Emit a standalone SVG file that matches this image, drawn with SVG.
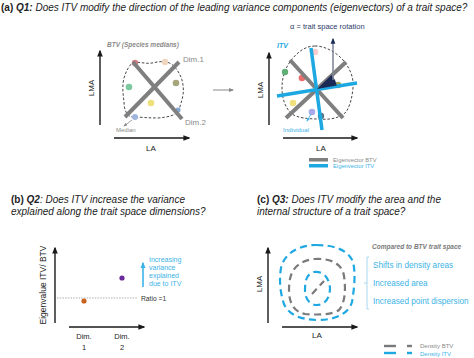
<svg xmlns="http://www.w3.org/2000/svg" width="474" height="358" viewBox="0 0 474 358">
<defs>
<style>
text{font-family:"Liberation Sans",Arial,sans-serif;}
.ttl{font-size:10px;font-style:italic;fill:#222;}
.b{font-weight:bold;}
.ax{stroke:#1a1a1a;stroke-width:1.4;fill:none;}
.axl{font-size:8px;fill:#222;}
.btv{stroke:#7f7f7f;stroke-width:4;stroke-linecap:butt;}
.itv{stroke:#1ea8e2;stroke-width:3.5;}
.hull{fill:none;stroke:#333;stroke-width:0.9;stroke-dasharray:2.6 1.8;}
.lb{fill:#3cb3e6;}
.cb{fill:none;stroke:#1ea8e2;stroke-width:2.2;stroke-dasharray:7 4.5;}
.cg{fill:none;stroke:#7a7a7a;stroke-width:2.2;stroke-dasharray:7 4.5;}
</style>
<marker id="ah" viewBox="0 0 10 10" refX="8" refY="5" markerWidth="5" markerHeight="5" orient="auto">
<path d="M0,1 L10,5 L0,9 Z" fill="#1a1a1a"/>
</marker>
<marker id="ahg" viewBox="0 0 10 10" refX="8" refY="5" markerWidth="5" markerHeight="5" orient="auto">
<path d="M0,1 L10,5 L0,9 Z" fill="#888"/>
</marker>
<marker id="ahb" viewBox="0 0 10 10" refX="8" refY="5" markerWidth="4" markerHeight="4" orient="auto">
<path d="M0,1 L10,5 L0,9 Z" fill="#3cb3e6"/>
</marker>
<marker id="ahn" viewBox="0 0 10 10" refX="8" refY="5" markerWidth="4" markerHeight="4" orient="auto">
<path d="M0,1 L10,5 L0,9 Z" fill="#1b2a55"/>
</marker>
</defs>
<rect width="474" height="358" fill="#fff"/>

<!-- Titles -->
<g id="title-a">
<text class="ttl" x="1" y="11"><tspan class="b" font-style="normal">(a) </tspan><tspan class="b">Q1:</tspan> Does ITV modify the direction of the leading variance components (eigenvectors) of a trait space?</text>
</g>
<g id="title-b">
<text class="ttl" x="11" y="203"><tspan class="b" font-style="normal">(b) </tspan><tspan class="b">Q2</tspan>: Does ITV increase the variance</text>
<text class="ttl" x="11" y="215">explained along the trait space dimensions?</text>
</g>
<g id="title-c">
<text class="ttl" x="257" y="203"><tspan class="b" font-style="normal">(c) </tspan><tspan class="b">Q3:</tspan> Does ITV modify the area and the</text>
<text class="ttl" x="257" y="215">internal structure of a trait space?</text>
</g>

<!-- Panel a left: BTV -->
<g id="a-btv">
<line class="ax" x1="100" y1="125" x2="100" y2="51" marker-end="url(#ah)"/>
<line class="ax" x1="114" y1="138" x2="189" y2="138" marker-end="url(#ah)"/>
<text class="axl" transform="translate(94,88) rotate(-90)" text-anchor="middle">LMA</text>
<text class="axl" x="151" y="151" text-anchor="middle">LA</text>
<text x="107" y="47" font-size="6.5" font-weight="bold" font-style="italic" fill="#8a8a8a">BTV (Species medians)</text>
<path class="hull" d="M133,62 C140,62 146,64 152,63 C157,62 162,61 167,62 C173,64 176,68 179,73 C183,80 184,88 183,95 C182,101 180,106 179,110 C175,116 168,117 158,118 C148,118 140,117 133,117 C127,117 124,110 124,102 C123,94 122,86 124,78 C126,71 129,66 133,62 Z"/>
<circle cx="135" cy="63" r="3.2" fill="#d26a72" opacity="0.85"/>
<circle cx="165" cy="62" r="3.2" fill="#f0d6bf"/>
<circle cx="129" cy="87" r="3.3" fill="#7cc9a0"/>
<circle cx="176" cy="83" r="3.3" fill="#a7a57c"/>
<circle cx="151" cy="103" r="3.3" fill="#efe07c"/>
<circle cx="135" cy="117" r="3" fill="#9fb6dc"/>
<circle cx="178" cy="110" r="2.6" fill="#86a7d3"/>
<line class="btv" x1="133" y1="62" x2="182" y2="119"/>
<line class="btv" x1="125" y1="117" x2="179" y2="62"/>
<text x="183" y="62" font-size="8" fill="#8a8a8a">Dim.1</text>
<text x="185" y="125" font-size="8" fill="#8a8a8a">Dim.2</text>
<line x1="132" y1="120" x2="124" y2="126" stroke="#888" stroke-width="0.8" marker-end="url(#ahg)"/>
<text x="116" y="132" font-size="6" fill="#8a8a8a">Median</text>
</g>

<!-- Panel a right: ITV -->
<g id="a-itv">
<line class="ax" x1="269" y1="125" x2="269" y2="53" marker-end="url(#ah)"/>
<line class="ax" x1="283" y1="138" x2="357" y2="138" marker-end="url(#ah)"/>
<text class="axl" transform="translate(263,90) rotate(-90)" text-anchor="middle">LMA</text>
<text class="axl" x="321" y="151" text-anchor="middle">LA</text>
<text x="277" y="48" font-size="7" font-weight="bold" font-style="italic" fill="#1ea8e2">ITV</text>
<path class="hull" d="M315,46 C325,46 336,52 343,60 C350,68 354,78 353,88 C352,98 350,106 346,112 C340,118 330,120 320,119 C308,119 298,118 292,114 C285,108 282,98 282,88 C282,76 286,66 293,58 C299,51 306,46 315,46 Z"/>
<circle cx="315" cy="52" r="3.3" fill="#f6cccc"/>
<circle cx="285" cy="72" r="3.2" fill="#5fae78"/>
<circle cx="302" cy="78" r="3.3" fill="#ea6d6d"/>
<circle cx="338" cy="85" r="3.3" fill="#9ea35e"/>
<circle cx="293" cy="103" r="3.3" fill="#f0e07c"/>
<circle cx="312" cy="112" r="3.3" fill="#a9a9ea"/>
<circle cx="321" cy="116" r="3.2" fill="#587a88"/>
<line class="btv" x1="290" y1="60" x2="343" y2="118"/>
<line class="btv" x1="286" y1="118" x2="346" y2="62"/>
<line class="itv" x1="311" y1="48" x2="322" y2="130"/>
<line class="itv" x1="277" y1="96" x2="357" y2="83"/>
<path d="M317,89 L331.4,75.1 A20,20 0 0,1 336.7,85.5 Z" fill="#1b2a55"/>
<line x1="333" y1="80" x2="333" y2="39" stroke="#7c8399" stroke-width="1.5" marker-end="url(#ahn)"/>
<text x="290" y="29" font-size="7.5" fill="#2b3a67">α = trait space rotation</text>
<line x1="311" y1="114" x2="307" y2="121" stroke="#3cb3e6" stroke-width="0.9" marker-end="url(#ahb)"/>
<text x="296" y="132" font-size="6.2" text-anchor="middle" class="lb">Individual</text>
</g>

<g id="a-legend">
<rect x="309" y="158" width="19" height="3.5" fill="#7f7f7f"/>
<rect x="309" y="164" width="19" height="3.5" fill="#1ea8e2"/>
<text x="333" y="162" font-size="5.8" fill="#8a8a8a">Eigenvector BTV</text>
<text x="333" y="168" font-size="5.8" class="lb">Eigenvector ITV</text>
</g>

<g id="connectors">
<line x1="213" y1="90" x2="233" y2="90" stroke="#888" stroke-width="1" marker-end="url(#ahg)"/>
</g>

<!-- Panel b -->
<g id="b-plot">
<line class="ax" x1="55" y1="323" x2="55" y2="248" marker-end="url(#ah)"/>
<line class="ax" x1="69" y1="327" x2="144" y2="327" marker-end="url(#ah)"/>
<text transform="translate(46,285) rotate(-90)" text-anchor="middle" font-size="8.5" fill="#222">Eigenvalue ITV/ BTV</text>
<line x1="57" y1="298" x2="137" y2="298" stroke="#999" stroke-width="0.8" stroke-dasharray="1.5 1.2"/>
<text x="141" y="301" font-size="6.7" fill="#333">Ratio =1</text>
<circle cx="84" cy="301" r="2.6" fill="#c9631c"/>
<circle cx="122" cy="278" r="2.6" fill="#6a2a9a"/>
<text x="84" y="339" font-size="7.5" text-anchor="middle" fill="#222">Dim.</text>
<text x="84" y="350" font-size="7.5" text-anchor="middle" fill="#222">1</text>
<text x="122" y="339" font-size="7.5" text-anchor="middle" fill="#222">Dim.</text>
<text x="122" y="350" font-size="7.5" text-anchor="middle" fill="#222">2</text>
<line x1="143" y1="287" x2="143" y2="263" stroke="#3cb3e6" stroke-width="1.6" marker-end="url(#ahb)"/>
<text x="149" y="262" font-size="7" class="lb">Increasing</text>
<text x="149" y="270" font-size="7" class="lb">variance</text>
<text x="149" y="278" font-size="7" class="lb">explained</text>
<text x="149" y="286" font-size="7" class="lb">due to ITV</text>
</g>

<!-- Panel c -->
<g id="c-plot">
<line class="ax" x1="268" y1="323" x2="268" y2="248" marker-end="url(#ah)"/>
<line class="ax" x1="282" y1="327" x2="357" y2="327" marker-end="url(#ah)"/>
<text class="axl" transform="translate(262,284) rotate(-90)" text-anchor="middle">LMA</text>
<text class="axl" x="317" y="338" text-anchor="middle">LA</text>
<path class="cb" d="M316,245 C336,245 349,251 353,262 C356,274 354,290 352,302 C349,313 336,320 318,320 C300,320 288,314 284,304 C280,292 279,280 281,268 C284,254 298,245 316,245 Z"/>
<path class="cg" d="M314,259 C330,258 342,263 344,276 C346,290 345,303 339,310 C332,315 318,315 305,314 C294,312 289,303 289,290 C289,276 292,262 314,259 Z"/>
<path class="cb" d="M314,272 C324,271 329,278 330,288 C330,298 325,305 317,305 C309,305 305,298 305,290 C305,282 306,274 314,272 Z"/>
<path class="cg" d="M312,294 L324,281" stroke-dasharray="5 3"/>
</g>
<g id="c-notes">
<text x="372" y="249" font-size="6.5" font-weight="bold" font-style="italic" fill="#7a7a7a">Compared to BTV trait space</text>
<path d="M369,257 L367,257 L367,309 L369,309 M367,283 L364,283" fill="none" stroke="#9fd3ee" stroke-width="0.9"/>
<text x="373" y="268" font-size="8.2" class="lb">Shifts in density areas</text>
<text x="373" y="286" font-size="8.2" class="lb">Increased area</text>
<text x="373" y="304" font-size="8.2" class="lb">Increased point dispersion</text>
</g>
<g id="c-legend">
<line x1="384" y1="346" x2="396" y2="346" stroke="#7a7a7a" stroke-width="2.4"/>
<line x1="407" y1="346" x2="412" y2="346" stroke="#7a7a7a" stroke-width="2.4"/>
<line x1="384" y1="353" x2="396" y2="353" stroke="#1ea8e2" stroke-width="2.4"/>
<line x1="407" y1="353" x2="412" y2="353" stroke="#1ea8e2" stroke-width="2.4"/>
<text x="420" y="348" font-size="6" fill="#8a8a8a">Density BTV</text>
<text x="420" y="355.5" font-size="6" class="lb">Density ITV</text>
</g>
</svg>
